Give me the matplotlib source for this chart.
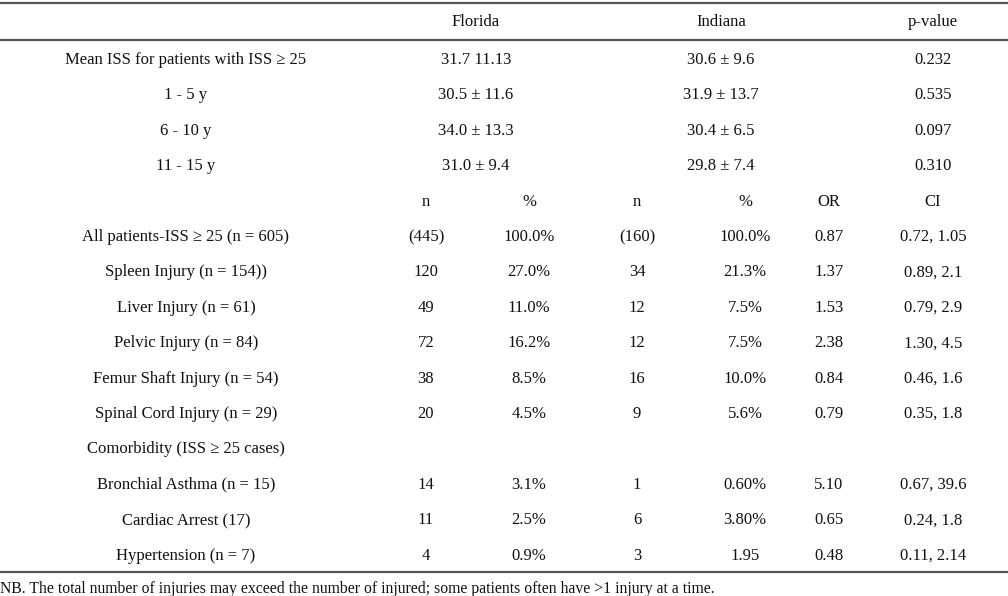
import matplotlib.pyplot as plt

plt.rcParams['font.family'] = ['Liberation Serif', 'DejaVu Serif']

# top block: mean ISS by age group
age_labels = ['Mean ISS for patients with ISS \u2265 25', '1 - 5 y', '6 - 10 y', '11 - 15 y']
florida_iss = ['31.7 11.13', '30.5 \u00b1 11.6', '34.0 \u00b1 13.3', '31.0 \u00b1 9.4']
indiana_iss = ['30.6 \u00b1 9.6', '31.9 \u00b1 13.7', '30.4 \u00b1 6.5', '29.8 \u00b1 7.4']
p_values = ['0.232', '0.535', '0.097', '0.310']

# lower block: injuries and comorbidity
sub_header = ['n', '%', 'n', '%', 'OR', 'CI']
row_labels = ['All patients-ISS \u2265 25 (n = 605)', 'Spleen Injury (n = 154))',
              'Liver Injury (n = 61)', 'Pelvic Injury (n = 84)',
              'Femur Shaft Injury (n = 54)', 'Spinal Cord Injury (n = 29)',
              'Comorbidity (ISS \u2265 25 cases)',
              'Bronchial Asthma (n = 15)', 'Cardiac Arrest (17)', 'Hypertension (n = 7)']
fl_n = ['(445)', '120', '49', '72', '38', '20', '', '14', '11', '4']
fl_pct = ['100.0%', '27.0%', '11.0%', '16.2%', '8.5%', '4.5%', '', '3.1%', '2.5%', '0.9%']
in_n = ['(160)', '34', '12', '12', '16', '9', '', '1', '6', '3']
in_pct = ['100.0%', '21.3%', '7.5%', '7.5%', '10.0%', '5.6%', '', '0.60%', '3.80%', '1.95']
odds = ['0.87', '1.37', '1.53', '2.38', '0.84', '0.79', '', '5.10', '0.65', '0.48']
ci = ['0.72, 1.05', '0.89, 2.1', '0.79, 2.9', '1.30, 4.5', '0.46, 1.6', '0.35, 1.8', '',
      '0.67, 39.6', '0.24, 1.8', '0.11, 2.14']

note = ('NB. The total number of injuries may exceed the number of injured; '
        'some patients often have >1 injury at a time.')

fig = plt.figure(figsize=(10.08, 5.96), dpi=100)
ax = fig.add_axes([0, 0, 1, 1])
ax.set_xlim(0, 1008)
ax.set_ylim(596, 0)
ax.axis('off')

fs = 12
kw = dict(ha='center', va='center', fontsize=fs, color='#111111')

# header
ax.text(476, 22, 'Florida', **kw)
ax.text(721, 22, 'Indiana', **kw)
ax.text(933, 22, 'p-value', **kw)

for y in (3, 40, 572):
    ax.plot([0, 1008], [y, y], color='#555555', lw=1.6, solid_capstyle='butt')

row_h = 35.4
y0 = 60
for i in range(len(age_labels)):
    y = y0 + i * row_h
    ax.text(186, y, age_labels[i], **kw)
    ax.text(476, y, florida_iss[i], **kw)
    ax.text(721, y, indiana_iss[i], **kw)
    ax.text(933, y, p_values[i], **kw)

cols_x = [426, 529, 637, 745, 829, 933]
y_sub = y0 + 4 * row_h
for x, s in zip(cols_x, sub_header):
    ax.text(x, y_sub, s, **kw)

for i in range(len(row_labels)):
    y = y_sub + (i + 1) * row_h
    ax.text(186, y, row_labels[i], **kw)
    if row_labels[i].startswith('Comorbidity'):
        continue
    for x, col in zip(cols_x, (fl_n, fl_pct, in_n, in_pct, odds, ci)):
        ax.text(x, y, col[i], **kw)

ax.text(0, 589, note, ha='left', va='center', fontsize=11.3, color='#111111')

fig.savefig('out.png', dpi=100)
